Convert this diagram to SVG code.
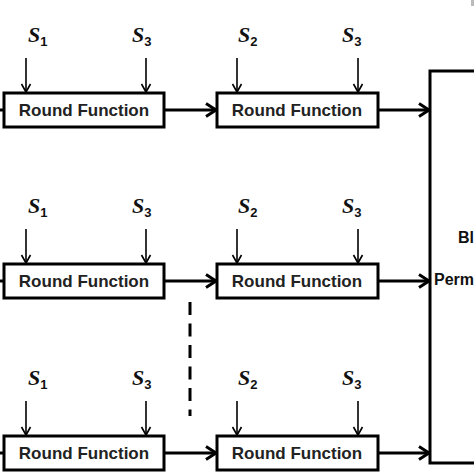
<svg xmlns="http://www.w3.org/2000/svg" width="474" height="474" viewBox="0 0 474 474">
<style>
.box{fill:#fff;stroke:#000;stroke-width:3}
.rf{font-family:"Liberation Sans",Arial,sans-serif;font-weight:bold;font-size:17px;fill:#222;text-anchor:middle}
.s{font-family:"Liberation Serif","Times New Roman",serif;font-style:italic;font-weight:bold;font-size:22px;fill:#111}
.sub{font-family:"Liberation Sans",Arial,sans-serif;font-style:normal;font-weight:bold;font-size:13px}
.h{stroke:#000;stroke-width:3;fill:none}
.v{stroke:#000;stroke-width:1.6;fill:none}
.big{font-family:"Liberation Sans",Arial,sans-serif;font-weight:bold;font-size:16px;fill:#111}
</style>
<defs>
<marker id="ah" markerUnits="userSpaceOnUse" markerWidth="14" markerHeight="16" refX="12" refY="8" orient="auto">
<path d="M2,1.5 L12,8 L2,14.5" fill="none" stroke="#000" stroke-width="3"/>
</marker>
<marker id="av" markerUnits="userSpaceOnUse" markerWidth="12" markerHeight="12" refX="10" refY="6" orient="auto">
<path d="M2,1.5 L10,6 L2,10.5" fill="none" stroke="#000" stroke-width="1.6"/>
</marker>
</defs>
<rect x="471" y="0" width="3" height="6" fill="#bbb"/>
<g id="connectors">
<line class="h" x1="0" y1="110" x2="4" y2="110"/>
<line class="h" x1="164" y1="110" x2="216" y2="110" marker-end="url(#ah)"/>
<line class="h" x1="378" y1="110" x2="429" y2="110" marker-end="url(#ah)"/>
<line class="h" x1="0" y1="281" x2="4" y2="281"/>
<line class="h" x1="164" y1="281" x2="216" y2="281" marker-end="url(#ah)"/>
<line class="h" x1="378" y1="281" x2="429" y2="281" marker-end="url(#ah)"/>
<line class="h" x1="0" y1="453" x2="4" y2="453"/>
<line class="h" x1="164" y1="453" x2="216" y2="453" marker-end="url(#ah)"/>
<line class="h" x1="378" y1="453" x2="429" y2="453" marker-end="url(#ah)"/>
<line class="v" x1="26" y1="58" x2="26" y2="92" marker-end="url(#av)"/>
<line class="v" x1="146" y1="58" x2="146" y2="92" marker-end="url(#av)"/>
<line class="v" x1="237" y1="58" x2="237" y2="92" marker-end="url(#av)"/>
<line class="v" x1="358" y1="58" x2="358" y2="92" marker-end="url(#av)"/>
<line class="v" x1="26" y1="229" x2="26" y2="263" marker-end="url(#av)"/>
<line class="v" x1="146" y1="229" x2="146" y2="263" marker-end="url(#av)"/>
<line class="v" x1="237" y1="229" x2="237" y2="263" marker-end="url(#av)"/>
<line class="v" x1="358" y1="229" x2="358" y2="263" marker-end="url(#av)"/>
<line class="v" x1="26" y1="401" x2="26" y2="435" marker-end="url(#av)"/>
<line class="v" x1="146" y1="401" x2="146" y2="435" marker-end="url(#av)"/>
<line class="v" x1="237" y1="401" x2="237" y2="435" marker-end="url(#av)"/>
<line class="v" x1="358" y1="401" x2="358" y2="435" marker-end="url(#av)"/>
<line x1="190" y1="302" x2="190" y2="416" stroke="#000" stroke-width="3" stroke-dasharray="13 8.5"/>
</g>
<g id="labels">
<text class="s" x="28" y="42">S<tspan class="sub" dy="4">1</tspan></text>
<text class="s" x="132" y="42">S<tspan class="sub" dy="4">3</tspan></text>
<text class="s" x="238" y="42">S<tspan class="sub" dy="4">2</tspan></text>
<text class="s" x="342" y="42">S<tspan class="sub" dy="4">3</tspan></text>
<text class="s" x="28" y="213">S<tspan class="sub" dy="4">1</tspan></text>
<text class="s" x="132" y="213">S<tspan class="sub" dy="4">3</tspan></text>
<text class="s" x="238" y="213">S<tspan class="sub" dy="4">2</tspan></text>
<text class="s" x="342" y="213">S<tspan class="sub" dy="4">3</tspan></text>
<text class="s" x="28" y="385">S<tspan class="sub" dy="4">1</tspan></text>
<text class="s" x="132" y="385">S<tspan class="sub" dy="4">3</tspan></text>
<text class="s" x="238" y="385">S<tspan class="sub" dy="4">2</tspan></text>
<text class="s" x="342" y="385">S<tspan class="sub" dy="4">3</tspan></text>
</g>
<g id="rf1a"><rect class="box" x="4" y="93" width="160" height="34"/><text class="rf" x="84" y="116">Round Function</text></g>
<g id="rf1b"><rect class="box" x="217" y="93" width="161" height="34"/><text class="rf" x="297" y="116">Round Function</text></g>
<g id="rf2a"><rect class="box" x="4" y="264" width="160" height="34"/><text class="rf" x="84" y="287">Round Function</text></g>
<g id="rf2b"><rect class="box" x="217" y="264" width="161" height="34"/><text class="rf" x="297" y="287">Round Function</text></g>
<g id="rf3a"><rect class="box" x="4" y="436" width="160" height="34"/><text class="rf" x="84" y="459">Round Function</text></g>
<g id="rf3b"><rect class="box" x="217" y="436" width="161" height="34"/><text class="rf" x="297" y="459">Round Function</text></g>
<g id="perm"><rect class="box" x="430" y="71" width="60" height="392"/><text class="big" x="458" y="243">Bl</text><text class="big" x="434" y="285">Perm</text></g>
</svg>
